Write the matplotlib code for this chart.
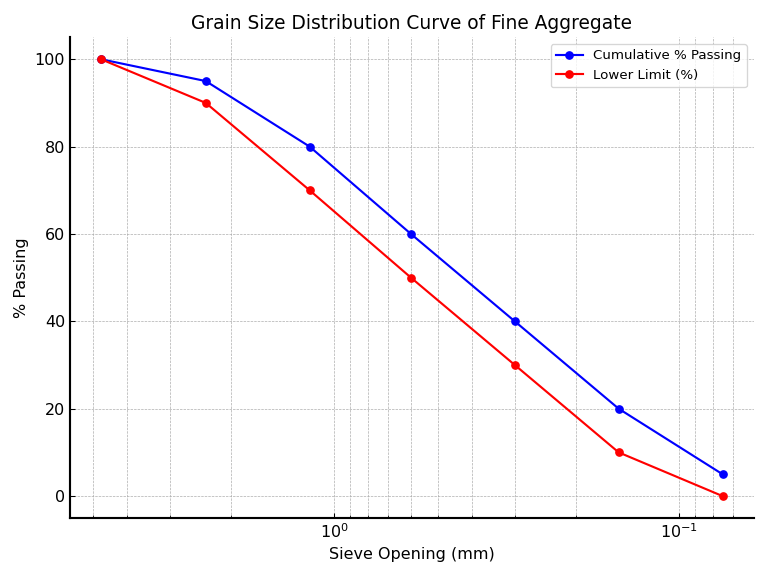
import matplotlib
matplotlib.use('Agg')
import matplotlib.pyplot as plt

sieve_mm = [4.75, 2.36, 1.18, 0.6, 0.3, 0.15, 0.075]
cum_passing = [100, 95, 80, 60, 40, 20, 5]
lower_limit = [100, 90, 70, 50, 30, 10, 0]

fig, ax = plt.subplots(figsize=(8, 6), dpi=96)

ax.plot(sieve_mm, cum_passing, marker='o', color='blue', markersize=5.5,
        linewidth=1.6, label='Cumulative % Passing')
ax.plot(sieve_mm, lower_limit, marker='o', color='red', markersize=5.5,
        linewidth=1.6, label='Lower Limit (%)')

ax.set_xscale('log')
ax.invert_xaxis()

ax.set_title('Grain Size Distribution Curve of Fine Aggregate', fontsize=14)
ax.set_xlabel('Sieve Opening (mm)', fontsize=12)
ax.set_ylabel('% Passing', fontsize=12)

ax.grid(True, which='both', linestyle='--', linewidth=0.5, color='#aaaaaa')
ax.spines['top'].set_visible(False)
ax.spines['right'].set_visible(False)
ax.spines['left'].set_linewidth(1.6)
ax.spines['bottom'].set_linewidth(1.6)
ax.tick_params(which='both', direction='in', labelsize=12)
ax.legend(loc='upper right', fontsize=10)

plt.tight_layout()
fig.savefig('out.png', dpi=96)
